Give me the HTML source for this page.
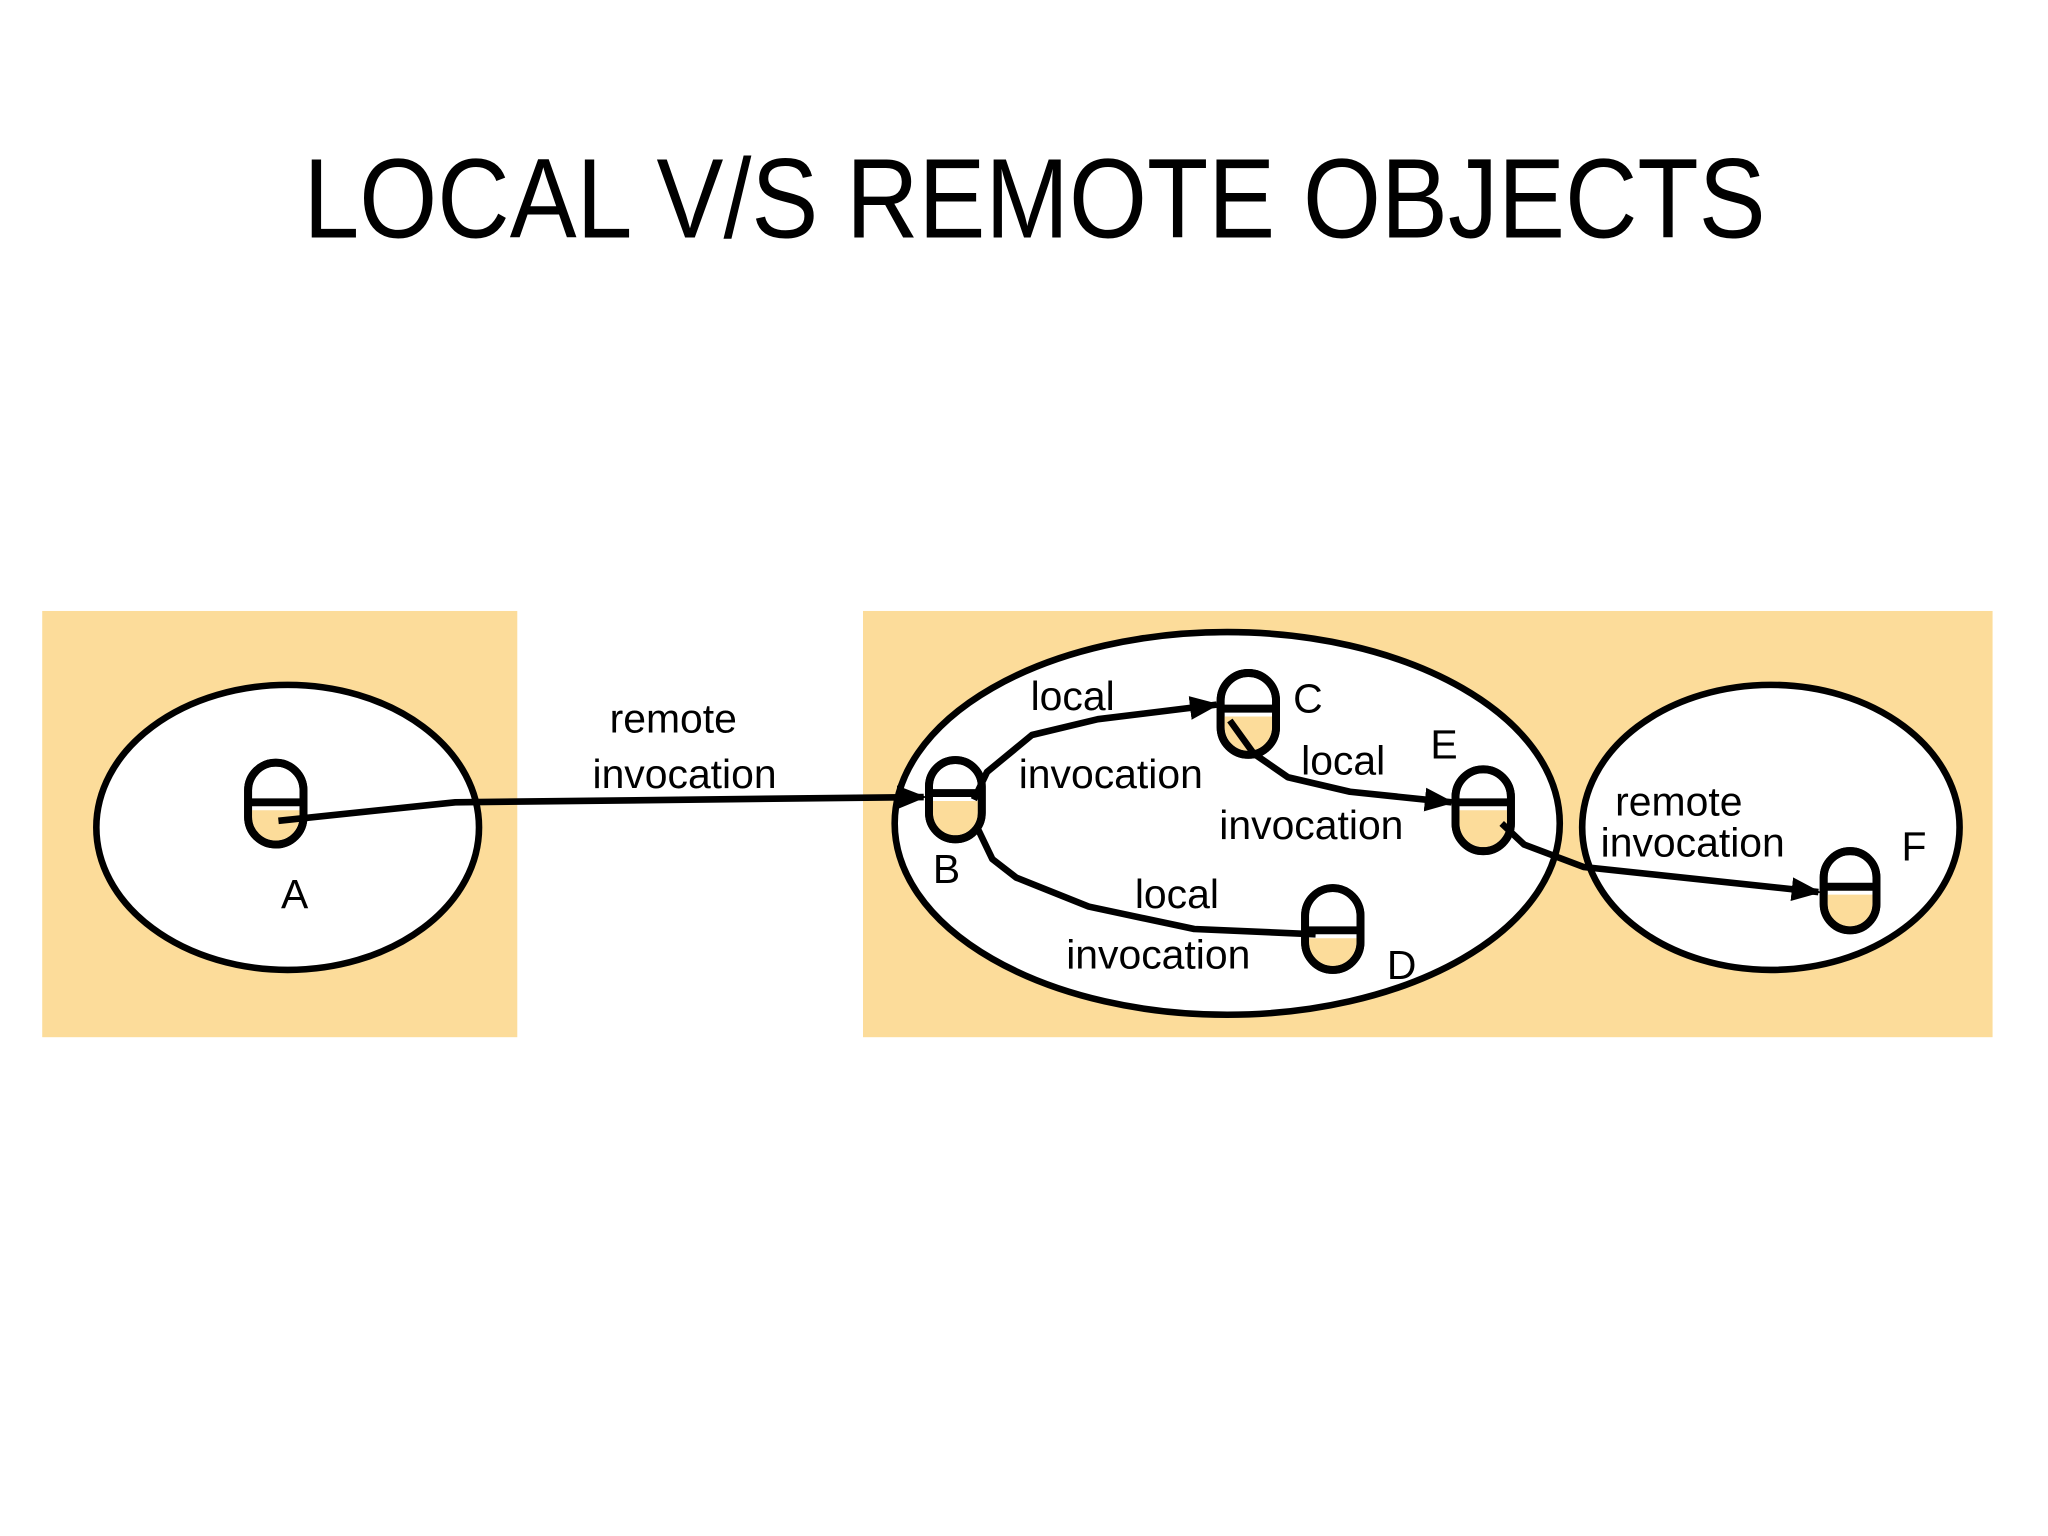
<!DOCTYPE html>
<html><head><meta charset="utf-8"><style>html,body{margin:0;padding:0;background:#fff}svg{display:block}</style></head>
<body>
<svg width="2048" height="1536" viewBox="0 0 1552 1164" xmlns="http://www.w3.org/2000/svg">
<defs>
<marker id="ah" viewBox="0 0 10 10" refX="9" refY="5" markerWidth="4.5" markerHeight="4.5" orient="auto" markerUnits="strokeWidth">
<path d="M0,1 L10,5 L0,9 z" fill="#000"/></marker>
</defs>
<rect width="1552" height="1164" fill="#fff"/>
<text x="230" y="180" font-family="Liberation Sans, sans-serif" font-size="86" textLength="1108" lengthAdjust="spacingAndGlyphs" fill="#000">LOCAL V/S REMOTE OBJECTS</text>
<rect x="32" y="463" width="360" height="323" fill="#fcdc9a"/>
<rect x="654" y="463" width="856" height="323" fill="#fcdc9a"/>
<g fill="#fff" stroke="#000" stroke-width="5">
<ellipse cx="218" cy="627" rx="145" ry="108"/>
<ellipse cx="930" cy="624" rx="252" ry="145"/>
<ellipse cx="1342" cy="627" rx="143" ry="108"/>
</g>
<g stroke="#000" stroke-width="6">
<rect x="188" y="578" width="42" height="62" rx="21" fill="#fff"/>
<path d="M191,614 H227 V619 A18,18 0 0 1 191,619 Z" fill="#fcdc9a" stroke="none"/>
<rect x="188" y="578" width="42" height="62" rx="21" fill="none"/>
<line x1="188" y1="608" x2="228" y2="608"/>
<rect x="704" y="576" width="40" height="60" rx="20" fill="#fff"/>
<path d="M707,607 H741 V616 A17,17 0 0 1 707,616 Z" fill="#fcdc9a" stroke="none"/>
<rect x="704" y="576" width="40" height="60" rx="20" fill="none"/>
<line x1="704" y1="601" x2="742" y2="601"/>
<rect x="925" y="510" width="42" height="62" rx="21" fill="#fff"/>
<path d="M928,543 H964 V551 A18,18 0 0 1 928,551 Z" fill="#fcdc9a" stroke="none"/>
<rect x="925" y="510" width="42" height="62" rx="21" fill="none"/>
<line x1="925" y1="537" x2="967" y2="537"/>
<rect x="1103" y="583" width="42" height="62" rx="21" fill="#fff"/>
<path d="M1106,614 H1142 V624 A18,18 0 0 1 1106,624 Z" fill="#fcdc9a" stroke="none"/>
<rect x="1103" y="583" width="42" height="62" rx="21" fill="none"/>
<line x1="1103" y1="608" x2="1143" y2="608"/>
<rect x="989" y="673" width="42" height="62" rx="21" fill="#fff"/>
<path d="M992,711 H1028 V714 A18,18 0 0 1 992,714 Z" fill="#fcdc9a" stroke="none"/>
<rect x="989" y="673" width="42" height="62" rx="21" fill="none"/>
<line x1="989" y1="705" x2="1031" y2="705"/>
<rect x="1382" y="645" width="40" height="60" rx="20" fill="#fff"/>
<path d="M1385,678 H1419 V685 A17,17 0 0 1 1385,685 Z" fill="#fcdc9a" stroke="none"/>
<rect x="1382" y="645" width="40" height="60" rx="20" fill="none"/>
<line x1="1382" y1="672" x2="1420" y2="672"/>
</g>
<g fill="none" stroke="#000" stroke-width="5" stroke-linejoin="round">
<polyline points="211,622 345,608 700,604" marker-end="url(#ah)"/>
<polyline points="738,606 748,585 782,557 832,545 922,534" marker-end="url(#ah)"/>
<polyline points="932,546 950,571 976,589 1023,600 1100,608" marker-end="url(#ah)"/>
<polyline points="997,708 905,704 825,687 770,665 752,651 740,626"/>
<polyline points="1138,624 1155,640 1200,657 1378,676" marker-end="url(#ah)"/>
</g>
<g font-family="Liberation Sans, Arial, sans-serif" font-size="31" fill="#000">
<text x="462" y="555">remote</text>
<text x="449" y="597">invocation</text>
<text x="781" y="538">local</text>
<text x="772" y="597">invocation</text>
<text x="986" y="587">local</text>
<text x="924" y="636">invocation</text>
<text x="860" y="688">local</text>
<text x="808" y="734">invocation</text>
<text x="1224" y="618">remote</text>
<text x="1213" y="649">invocation</text>
<text x="213" y="688">A</text>
<text x="707" y="669">B</text>
<text x="980" y="540">C</text>
<text x="1084" y="575">E</text>
<text x="1051" y="742">D</text>
<text x="1441" y="652">F</text>
</g>
</svg>
</body></html>
